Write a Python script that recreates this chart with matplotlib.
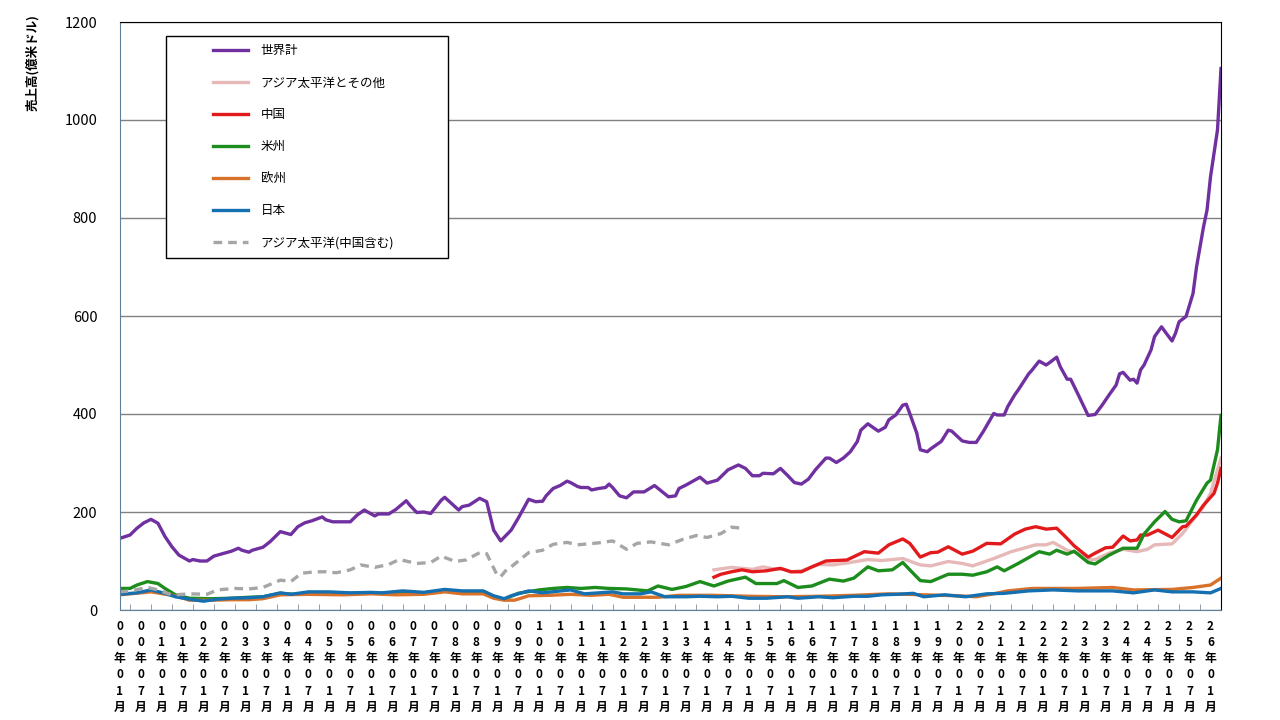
import matplotlib
matplotlib.use("Agg")
import matplotlib.pyplot as plt
from matplotlib.patches import Rectangle
from matplotlib.ticker import FixedLocator

plt.rcParams['font.family'] = ['Noto Sans CJK JP', 'DejaVu Sans']

# month offsets from 2000-01, values in 億米ドル
world_m = [0, 3, 5, 7, 9, 11, 13, 15, 17, 20, 21, 23, 25, 27, 29, 32, 34, 35, 37, 38,
           41, 43, 46, 49, 51, 53, 55, 58, 59, 61, 64, 66, 68, 70, 73, 74, 77, 79, 82, 83,
           85, 87, 89, 92, 93, 97, 98, 100, 103, 105, 107, 109, 112, 114, 117, 119, 121, 122, 124, 126,
           128, 129, 131, 132, 134, 135, 137, 139, 140, 141, 143, 145, 147, 150, 153, 157, 159, 160, 162, 165,
           166, 168, 171, 174, 177, 179, 181, 183, 184, 187, 189, 191, 193, 195, 197, 199, 202, 203, 205, 207,
           209, 211, 212, 214, 217, 219, 220, 222, 224, 225, 226, 228, 229, 231, 232, 235, 237, 238, 241, 243,
           245, 247, 250, 251, 253, 254, 256, 257, 260, 261, 263, 265, 266, 268, 269, 271, 272, 274, 277, 279,
           281, 283, 285, 286, 287, 289, 290, 291, 292, 293, 295, 296, 298, 299, 301, 302, 303, 305, 307, 308,
           310, 311, 312, 314, 315]
world_v = [146, 153, 167, 178, 185, 177, 150, 129, 112, 100, 103, 100, 100, 110, 114, 120, 126, 122, 118, 122,
           128, 139, 160, 154, 170, 178, 182, 190, 184, 180, 180, 180, 194, 204, 192, 196, 196, 205, 223, 214,
           199, 200, 197, 224, 230, 204, 211, 214, 228, 221, 163, 141, 163, 187, 226, 221, 222, 233, 248, 254,
           263, 260, 252, 250, 250, 245, 248, 250, 257, 250, 233, 229, 241, 241, 254, 231, 233, 248, 255, 267,
           271, 259, 265, 286, 296, 289, 274, 274, 279, 278, 289, 275, 260, 257, 267, 286, 310, 310, 301, 310,
           323, 344, 367, 380, 365, 373, 388, 398, 418, 420, 401, 361, 327, 323, 329, 344, 367, 365, 345, 342,
           342, 364, 401, 398, 398, 415, 439, 449, 482, 490, 508, 500, 505, 516, 497, 471, 471, 442, 397, 399,
           418, 439, 459, 482, 485, 469, 471, 463, 490, 500, 531, 558, 578, 568, 549, 565, 588, 599, 646, 700,
           782, 816, 884, 980, 1105]

apac_m = [170, 175, 181, 184, 187, 190, 192, 195, 200, 204, 209, 214, 218, 224, 229, 232, 237, 241, 244, 250,
          255, 262, 265, 267, 271, 274, 277, 279, 283, 287, 291, 294, 296, 301, 304, 307, 310, 312, 315]
apac_v = [82, 87, 83, 88, 84, 83, 78, 80, 93, 92, 97, 103, 101, 105, 92, 90, 99, 95, 90, 105,
          119, 133, 133, 138, 122, 116, 103, 103, 116, 124, 119, 124, 133, 135, 156, 184, 211, 238, 310]

china_m = [170, 172, 175, 178, 181, 185, 189, 192, 195, 198, 202, 208, 213, 217, 220, 224, 226, 229, 232, 234,
           237, 241, 244, 248, 252, 256, 259, 262, 265, 268, 271, 273, 277, 279, 282, 284, 287, 289, 291, 292,
           294, 297, 301, 304, 305, 308, 310, 313, 314, 315]
china_v = [67, 73, 78, 82, 78, 80, 85, 78, 78, 88, 100, 102, 119, 116, 133, 145, 136, 108, 117, 118,
           129, 114, 120, 136, 135, 155, 165, 170, 165, 167, 146, 131, 108, 116, 127, 128, 151, 141, 143, 153,
           153, 163, 148, 170, 171, 194, 214, 238, 259, 289]

americas_m = [0, 3, 5, 8, 11, 13, 16, 20, 26, 32, 37, 41, 46, 50, 55, 60, 66, 72, 76, 81,
              87, 94, 98, 104, 107, 110, 114, 120, 124, 128, 132, 136, 140, 145, 151, 154, 158, 162, 166, 170,
              174, 179, 182, 188, 190, 194, 198, 203, 207, 210, 214, 217, 221, 224, 226, 229, 232, 237, 241, 244,
              248, 251, 253, 257, 263, 266, 268, 271, 273, 277, 279, 283, 287, 291, 293, 296, 299, 301, 303, 305,
              308, 311, 312, 314, 315]
americas_v = [44, 44, 51, 58, 54, 44, 31, 24, 23, 24, 26, 27, 34, 32, 35, 35, 34, 35, 34, 37,
              35, 40, 37, 37, 28, 22, 34, 41, 44, 46, 44, 46, 44, 43, 39, 49, 42, 48, 58, 49,
              59, 67, 54, 54, 60, 46, 49, 63, 59, 65, 88, 80, 82, 97, 82, 60, 58, 73, 73, 71,
              78, 88, 80, 95, 119, 114, 122, 114, 120, 97, 94, 112, 126, 126, 155, 180, 201, 185, 180, 182,
              224, 259, 265, 327, 397]

europe_m = [0, 9, 16, 20, 26, 32, 37, 41, 46, 54, 64, 72, 79, 87, 93, 98, 104, 107, 110, 113,
            117, 123, 129, 135, 140, 144, 154, 160, 170, 180, 190, 200, 210, 220, 230, 240, 245, 250, 254, 261,
            268, 274, 284, 290, 301, 307, 312, 315]
europe_v = [31, 37, 29, 20, 20, 21, 21, 23, 31, 32, 31, 33, 31, 32, 37, 33, 33, 24, 20, 20,
            29, 30, 32, 30, 32, 26, 26, 30, 30, 28, 27, 28, 30, 33, 31, 29, 27, 33, 39, 44,
            44, 44, 46, 41, 42, 46, 51, 65]

japan_m = [0, 5, 9, 13, 16, 20, 24, 28, 32, 37, 41, 46, 49, 54, 60, 66, 72, 75, 81, 87,
           93, 98, 104, 107, 110, 112, 117, 121, 129, 133, 137, 141, 144, 149, 152, 156, 162, 166, 171, 175,
           180, 185, 191, 194, 200, 204, 210, 214, 218, 222, 227, 230, 236, 242, 248, 253, 260, 267, 274, 284,
           290, 296, 301, 307, 312, 315]
japan_v = [32, 35, 41, 34, 27, 22, 18, 22, 24, 25, 27, 35, 32, 37, 37, 35, 36, 35, 39, 36,
           42, 39, 39, 29, 23, 29, 39, 35, 41, 33, 35, 37, 33, 33, 37, 27, 27, 28, 27, 28,
           24, 24, 27, 24, 27, 25, 28, 28, 31, 32, 34, 27, 31, 27, 33, 34, 39, 41, 39, 39,
           35, 41, 37, 37, 35, 44]

apac_old_m = [0, 3, 8, 11, 14, 16, 20, 25, 28, 33, 37, 41, 46, 49, 52, 56, 59, 62, 66, 69,
              73, 77, 80, 85, 89, 92, 96, 99, 103, 105, 108, 109, 111, 112, 117, 121, 124, 128, 131, 134,
              137, 141, 145, 148, 152, 157, 161, 165, 168, 172, 175, 178]
apac_old_v = [37, 39, 46, 41, 33, 31, 33, 32, 41, 44, 43, 46, 61, 58, 75, 78, 78, 76, 82, 92,
              87, 93, 103, 95, 97, 110, 99, 102, 117, 115, 71, 68, 85, 88, 117, 122, 134, 138, 133, 135,
              137, 141, 124, 136, 139, 133, 144, 152, 148, 156, 169, 167]

series = [
    ("世界計", world_m, world_v, "#7030A0", "-"),
    ("アジア太平洋とその他", apac_m, apac_v, "#E6B9B8", "-"),
    ("中国", china_m, china_v, "#E31A1C", "-"),
    ("米州", americas_m, americas_v, "#1C8C1C", "-"),
    ("欧州", europe_m, europe_v, "#D8722A", "-"),
    ("日本", japan_m, japan_v, "#1470B0", "-"),
    ("アジア太平洋(中国含む)", apac_old_m, apac_old_v, "#A6A6A6", "--"),
]

n_months = 316  # 2000-01 .. 2026-04

fig = plt.figure(figsize=(12.8, 7.2), dpi=100)
ax = fig.add_axes([119.5 / 1280, 110 / 720, 1101.5 / 1280, 588 / 720])

for label, m, v, color, ls in series:
    if ls == "--":
        ax.plot(m, v, color=color, lw=2.4, ls=(0, (2.6, 1.8)), label=label)
    else:
        ax.plot(m, v, color=color, lw=2.4, label=label)

ax.set_xlim(0, n_months - 1)
ax.set_ylim(0, 1200)
ax.set_yticks(range(0, 1201, 200))
ax.grid(axis="y", color="#808080", lw=1)
ax.set_axisbelow(True)
ax.tick_params(axis="y", length=0, pad=16, labelsize=10.5)

# x labels every 6 months, one character per line
major = list(range(0, n_months - 3, 6))
labels = []
for m in major:
    s = f"{m // 12:02d}年{m % 12 + 1:02d}月"
    labels.append("\n".join(s))
ax.set_xticks(major)
ax.set_xticklabels(labels, fontsize=8.5, fontweight="bold", linespacing=1.32)
ax.xaxis.set_minor_locator(FixedLocator([m + 3 for m in major if m + 3 < n_months]))
ax.tick_params(axis="x", which="major", length=0, pad=7)
ax.tick_params(axis="x", which="minor", length=4, direction="in", color="#7f8f9f")

for side in ("left", "bottom"):
    ax.spines[side].set_color("#5f7f99")
for side in ("top", "right"):
    ax.spines[side].set_color("black")

# legend box
ax.add_patch(Rectangle((0.0422, 0.5986), 0.256, 0.3776, transform=ax.transAxes,
                       facecolor="white", edgecolor="black", lw=1, zorder=3))
leg = ax.legend(loc="upper left", bbox_to_anchor=(0.0849, 0.962), frameon=False,
                borderpad=0, borderaxespad=0, fontsize=9, handlelength=2.8,
                handletextpad=1.0, labelspacing=1.52)
leg.set_zorder(4)

fig.text(32 / 1280, 1 - 14 / 720, "売上高(億米ドル)", rotation=90, va="top", ha="center",
         fontsize=9, fontweight="bold")

fig.savefig("out.png", dpi=100)
